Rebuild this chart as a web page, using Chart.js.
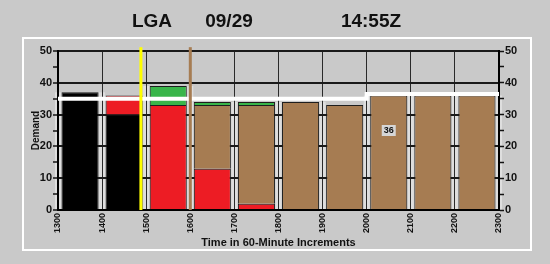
<!DOCTYPE html>
<html>
<head>
<meta charset="utf-8">
<script src="https://cdn.jsdelivr.net/npm/chart.js@4.4.1/dist/chart.umd.min.js"></script>
<style>
    html, body { margin: 0; padding: 0; background: #c9c9c9; }
    #demandChart { display: block; }
</style>
</head>
<body>
<canvas id="demandChart" width="550" height="264"></canvas>
<script>
    // hourly bins (start of each hour) and the labelled boundaries
    var hourBins = [1300, 1400, 1500, 1600, 1700, 1800, 1900, 2000, 2100, 2200];
    var hourTicks = [1300, 1400, 1500, 1600, 1700, 1800, 1900, 2000, 2100, 2200, 2300];
    var demandTicks = [0, 10, 20, 30, 40, 50];

    // stacked demand per hour, bottom to top
    var arrivedDemand  = [37, 30, null, null, null, null, null, null, null, null];
    var activeDemand   = [null, 6, 33, 13, 2, null, null, null, null, null];
    var scheduledDemand = [null, null, null, 20, 31, 34, 33, 36, 36, 36];
    var proposedDemand = [null, null, 6, 1, 1, null, null, null, null, null];

    // arrival rate line (steps up at 2000)
    var rateTimes = [1300, 2000, 2000, 2300];
    var rateValues = [35, 35, 36.5, 36.5];

    var nowTime = 1488;        // 14:55 marker
    var programTime = 1600;
    var labelledBin = 7;       // the "36" box on the 2000 bar

    var headerTexts = ['LGA', '09/29', '14:55Z'];
    var FONT = 'Arial, "Liberation Sans", Helvetica, sans-serif';

    var totals = hourBins.map(function (h, i) {
        return [arrivedDemand, activeDemand, scheduledDemand, proposedDemand].reduce(function (acc, s) {
            return acc + (s[i] || 0);
        }, 0);
    });

    function toPoints(values) {
        return hourBins.map(function (h, i) {
            return { x: h + 50, y: values[i] };
        });
    }

    function barSet(label, values, color) {
        return {
            type: 'bar',
            label: label,
            data: toPoints(values),
            backgroundColor: color,
            borderColor: '#1e1e1e',
            borderWidth: 1,
            categoryPercentage: 1,
            barPercentage: 0.84,
            order: 3
        };
    }

    function verticalLine(label, time, color) {
        return {
            type: 'line',
            label: label,
            data: [{ x: time, y: 0 }, { x: time, y: 51.2 }],
            borderColor: color,
            borderWidth: 3,
            pointRadius: 0,
            clip: false,
            order: 1
        };
    }

    var backdropPlugin = {
        id: 'backdrop',
        beforeDraw: function (chart) {
            var ctx = chart.ctx;
            var area = chart.chartArea;
            var xs = chart.scales.x;
            var ys = chart.scales.y;
            ctx.save();
            ctx.fillStyle = '#c9c9c9';
            ctx.fillRect(0, 0, chart.width, chart.height);

            ctx.strokeStyle = '#ffffff';
            ctx.lineWidth = 2;
            ctx.strokeRect(23, 38, 508, 212);

            // light gaps between the bars, under the grid
            ctx.fillStyle = '#dedede';
            hourTicks.forEach(function (t, i) {
                var h = Math.max(totals[i - 1] || 0, totals[i] || 0);
                var px = xs.getPixelForValue(t);
                var top = ys.getPixelForValue(h);
                ctx.fillRect(px - 3, top, 6, area.bottom - top);
            });

            ctx.fillStyle = '#111';
            ctx.font = 'bold 19px ' + FONT;
            ctx.textAlign = 'center';
            ctx.textBaseline = 'alphabetic';
            ctx.fillText(headerTexts[0], 152, 27);
            ctx.fillText(headerTexts[1], 229, 27);
            ctx.fillText(headerTexts[2], 371, 27);
            ctx.restore();
        },
        afterDatasetsDraw: function (chart) {
            var ctx = chart.ctx;
            var bar = chart.getDatasetMeta(2).data[labelledBin];
            if (!bar) {
                return;
            }
            var cy = chart.scales.y.getPixelForValue(25);
            ctx.save();
            ctx.fillStyle = '#d6d6d6';
            ctx.fillRect(bar.x - 7, cy - 5.5, 14, 11);
            ctx.fillStyle = '#111';
            ctx.font = 'bold 9px ' + FONT;
            ctx.textAlign = 'center';
            ctx.textBaseline = 'middle';
            ctx.fillText(String(totals[labelledBin]), bar.x, cy + 0.5);
            ctx.restore();
        }
    };

    function yTickLabel(v) {
        return demandTicks.indexOf(v) >= 0 ? String(v) : '';
    }

    function gridColor(c) {
        return c.tick && demandTicks.indexOf(c.tick.value) >= 0 ? '#1a1a1a' : 'rgba(0,0,0,0)';
    }

    new Chart(document.getElementById('demandChart').getContext('2d'), {
        data: {
            datasets: [
                barSet('Arrived', arrivedDemand, '#000000'),
                barSet('Active', activeDemand, '#ed1c24'),
                barSet('Scheduled', scheduledDemand, '#a67c52'),
                barSet('Proposed', proposedDemand, '#39b54a'),
                {
                    type: 'line',
                    label: 'Rate',
                    data: rateTimes.map(function (t, i) { return { x: t, y: rateValues[i] }; }),
                    borderColor: '#ffffff',
                    borderWidth: 4,
                    pointRadius: 0,
                    clip: false,
                    order: 2
                },
                verticalLine('Now', nowTime, '#ffff00'),
                verticalLine('Program', programTime, '#a67c52')
            ]
        },
        options: {
            responsive: false,
            devicePixelRatio: 1,
            animation: false,
            layout: { padding: { top: 51, left: 0, right: 0, bottom: 0 } },
            plugins: {
                legend: { display: false },
                tooltip: { enabled: false }
            },
            scales: {
                x: {
                    type: 'linear',
                    stacked: true,
                    offset: false,
                    min: 1300,
                    max: 2300,
                    afterBuildTicks: function (scale) {
                        scale.ticks = hourTicks.map(function (v) { return { value: v }; });
                    },
                    afterFit: function (scale) { scale.height = 54; },
                    ticks: {
                        autoSkip: false,
                        maxRotation: 90,
                        minRotation: 90,
                        padding: 3,
                        color: '#111',
                        font: { family: FONT, size: 9, weight: 'bold' },
                        callback: function (v) { return String(v); }
                    },
                    grid: { color: '#2a2a2a', lineWidth: 1, drawTicks: false, offset: false },
                    border: { display: true, color: '#000', width: 2 },
                    title: {
                        display: true,
                        text: 'Time in 60-Minute Increments',
                        color: '#111',
                        font: { family: FONT, size: 11, weight: 'bold' },
                        padding: { top: 0, bottom: 14 }
                    }
                },
                y: {
                    stacked: true,
                    min: 0,
                    max: 50,
                    afterFit: function (scale) { scale.width = 58; },
                    ticks: {
                        stepSize: 5,
                        autoSkip: false,
                        padding: 1,
                        color: '#111',
                        font: { family: FONT, size: 11, weight: 'bold' },
                        callback: yTickLabel
                    },
                    grid: { color: gridColor, lineWidth: 2, tickColor: '#111', tickWidth: 1.5, tickLength: 5 },
                    border: { display: true, color: '#000', width: 2 },
                    title: {
                        display: true,
                        text: 'Demand',
                        color: '#111',
                        font: { family: FONT, size: 10, weight: 'bold' },
                        padding: { top: 30, bottom: 0 }
                    }
                },
                y2: {
                    position: 'right',
                    min: 0,
                    max: 50,
                    afterFit: function (scale) { scale.width = 51; },
                    ticks: {
                        stepSize: 5,
                        autoSkip: false,
                        padding: 1,
                        color: '#111',
                        font: { family: FONT, size: 11, weight: 'bold' },
                        callback: yTickLabel
                    },
                    grid: { drawOnChartArea: false, tickColor: '#111', tickWidth: 1.5, tickLength: 5 },
                    border: { display: true, color: '#000', width: 2 }
                }
            }
        },
        plugins: [backdropPlugin]
    });
</script>
</body>
</html>
